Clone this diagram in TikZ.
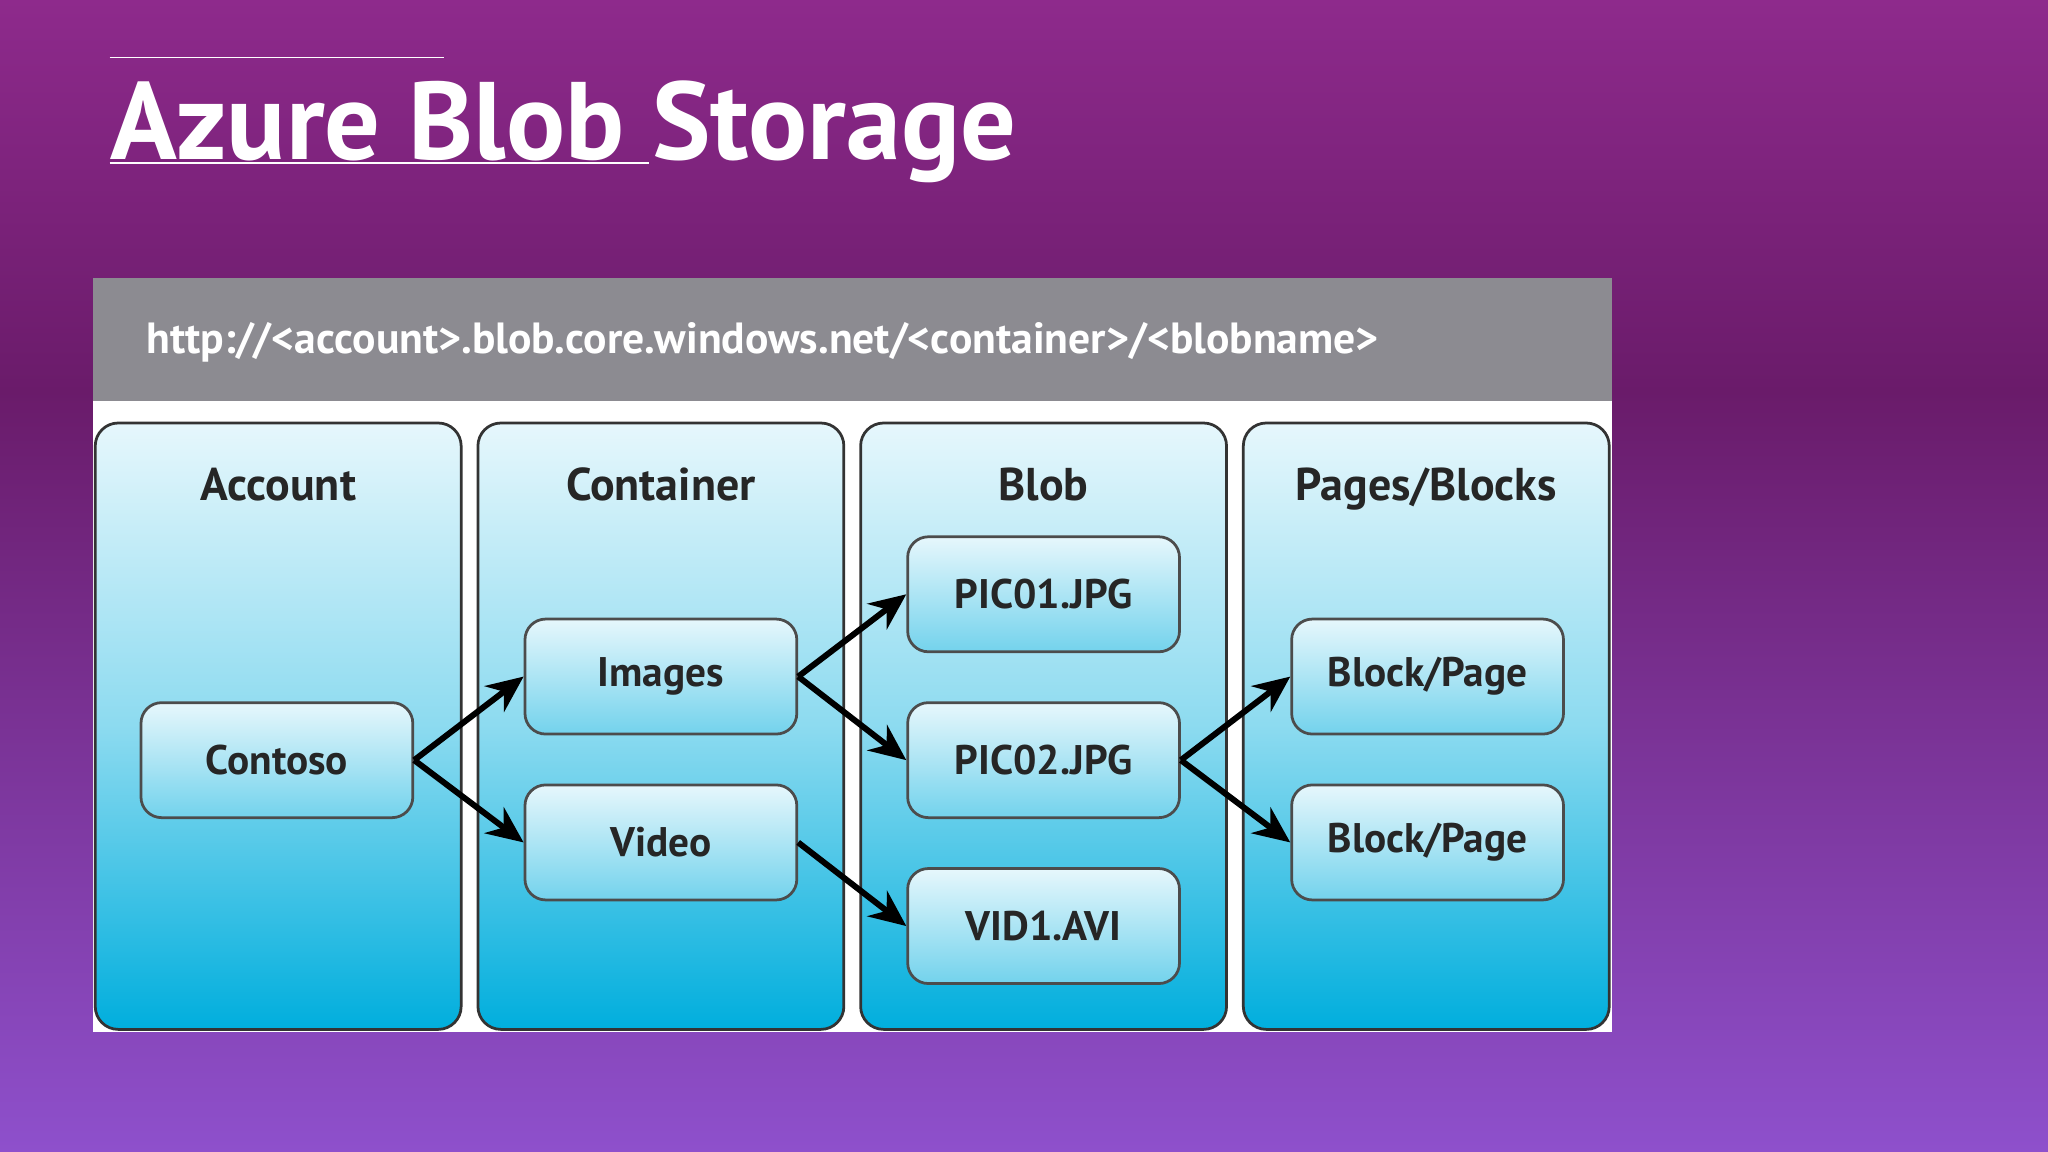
\documentclass[tikz,border=0pt]{standalone}
\usepackage{fontspec}
\setmainfont{PT Sans}
\usetikzlibrary{arrows.meta,positioning}
\definecolor{bgtop}{HTML}{8E2A8C}
\definecolor{bgmid}{HTML}{6A1B6A}
\definecolor{bgbot}{HTML}{8E50CC}
\definecolor{band}{HTML}{8C8B91}
\definecolor{cyanlo}{HTML}{00AEDD}
\definecolor{cyanhi}{HTML}{E6F7FC}
\tikzstyle{panel} = [rectangle, draw=black!80, line width=0.6pt, rounded corners=5pt,
    top color=cyanhi, bottom color=cyanlo, middle color=cyanlo!45, minimum width=2.8cm, minimum height=4.64cm]
\tikzstyle{item} = [rectangle, draw=black!70, line width=0.6pt, rounded corners=4.5pt,
    top color=cyanhi, bottom color=cyanlo!55, minimum width=2.08cm, minimum height=0.88cm,
    font=\fontsize{9}{11}\selectfont\bfseries, text=black!85]
\tikzstyle{head} = [font=\fontsize{10}{12}\selectfont\bfseries, text=black!85, anchor=base]
\tikzstyle{line} = [draw, line width=1.3pt, -{Stealth[length=8pt,width=7pt]}]

\begin{document}
\begin{tikzpicture}[x=0.01cm, y=-0.01cm]
    % Background
    \shade[top color=bgtop, bottom color=bgmid] (0,0) rectangle (1568,300);
    \shade[top color=bgmid, bottom color=bgbot] (0,299) rectangle (1568,882);
    \useasboundingbox (0,0) rectangle (1568,882);
    \draw[white, line width=0.4pt] (84,44) -- (340,44);
    \node[anchor=base west, inner sep=0, text=white, font=\fontsize{24}{28}\selectfont\bfseries] (title) at (84,122) {Azure Blob Storage};
    \draw[white, line width=0.4pt] (84,125) -- (497,125);
    % URL band
    \fill[band] (71,213) rectangle (1234,307);
    \fill[white] (71,307) rectangle (1234,790);
    \node[anchor=west, text=white, font=\fontsize{9.5}{11}\selectfont\bfseries] (url) at (100,262)
        {http://<account>.blob.core.windows.net/<container>/<blobname>};
    % Panels
    \node[panel] (pacc) at (213,556) {};
    \node[panel] (pcon) at (506,556) {};
    \node[panel] (pblob) at (799,556) {};
    \node[panel] (ppag) at (1092,556) {};
    \node[head] at (213,383) {Account};
    \node[head] at (506,383) {Container};
    \node[head] at (799,383) {Blob};
    \node[head] at (1092,383) {Pages/Blocks};
    % Items
    \node[item] (contoso) at (212,582) {Contoso};
    \node[item] (images) at (506,518) {Images};
    \node[item] (video) at (506,645) {Video};
    \node[item] (pic1) at (799,455) {PIC01.JPG};
    \node[item] (pic2) at (799,582) {PIC02.JPG};
    \node[item] (vid) at (799,709) {VID1.AVI};
    \node[item] (bp1) at (1093,518) {Block/Page};
    \node[item] (bp2) at (1093,645) {Block/Page};
    % Arrows
    \path[line] (contoso.east) -- (images.west);
    \path[line] (contoso.east) -- (video.west);
    \path[line] (images.east) -- (pic1.west);
    \path[line] (images.east) -- (pic2.west);
    \path[line] (video.east) -- (vid.west);
    \path[line] (pic2.east) -- (bp1.west);
    \path[line] (pic2.east) -- (bp2.west);
\end{tikzpicture}
\end{document}
